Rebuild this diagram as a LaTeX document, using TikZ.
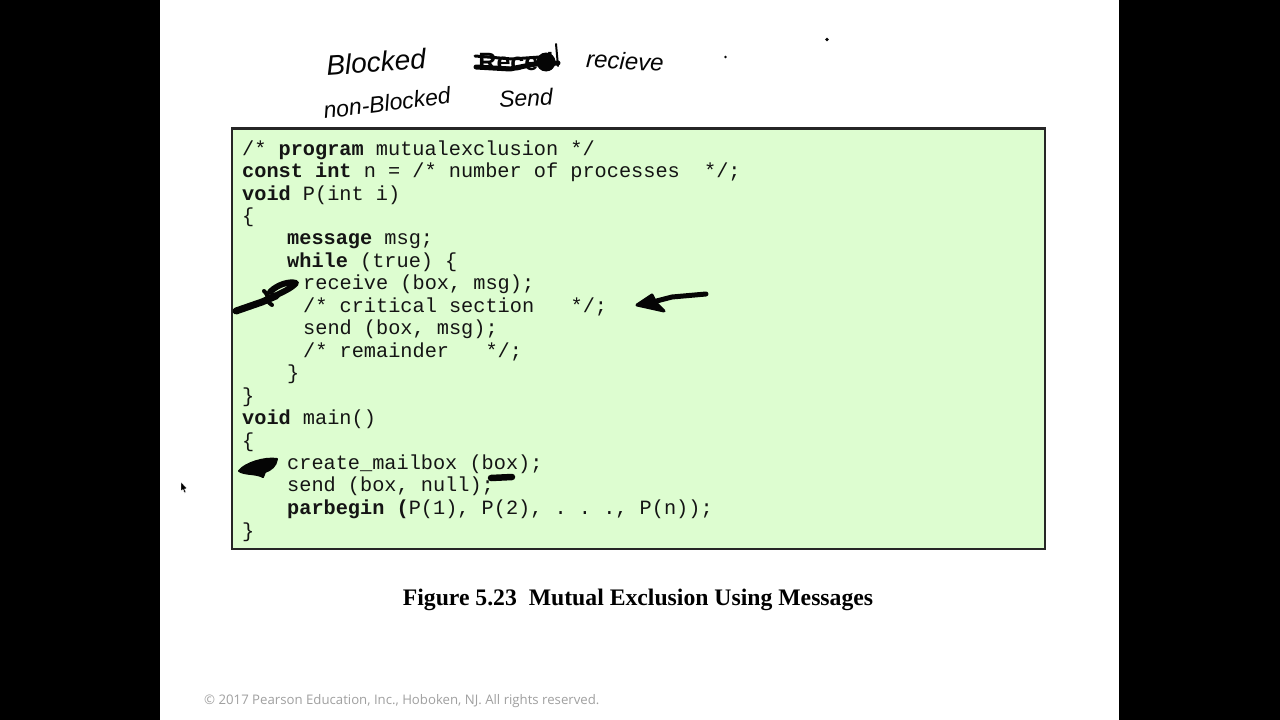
\documentclass[tikz,border=0pt]{standalone}
\usepackage{fontspec}
\setmainfont{Liberation Serif}
\setmonofont{Liberation Mono}
\newfontfamily\handfont{Liberation Sans}
\newfontfamily\notefont{Open Sans}
\definecolor{boxgreen}{HTML}{DDFDD0}
\definecolor{inkblack}{HTML}{050505}
\definecolor{notegray}{HTML}{A0A0A0}
\tikzset{
	codeline/.style={anchor=base west,inner sep=0,font=\fontsize{20.26}{22}\selectfont\ttfamily,text=black!92},
	handword/.style={anchor=center,inner sep=0,text=inkblack},
	inkstroke/.style={draw=inkblack,line cap=round,line join=round},
	inkblob/.style={fill=inkblack,draw=inkblack,line join=round}
}
\begin{document}
\begin{tikzpicture}[x=1pt,y=-1pt]
	\useasboundingbox (0,0) rectangle (1280,720);
	\fill[black] (0,0) rectangle (1280,720);
	\fill[white] (160,0) rectangle (1119,720);
	% handwriting above the box
	\node[handword,font=\handfont\itshape\fontsize{28}{28}\selectfont,rotate=4] (blocked) at (376,62) {Blocked};
	\node[handword,font=\handfont\bfseries\fontsize{25}{25}\selectfont] (struck) at (516,62) {Reced};
	\node[handword,font=\handfont\itshape\fontsize{24}{24}\selectfont,rotate=-3] (recieve) at (625,61) {recieve};
	\node[handword,font=\handfont\itshape\fontsize{23}{23}\selectfont,rotate=7] (nonblocked) at (387,103) {non-Blocked};
	\node[handword,font=\handfont\itshape\fontsize{23}{23}\selectfont,rotate=3] (sendword) at (526,98) {Send};
	\draw[inkstroke,line width=5pt] (476,67) -- (510,69) -- (535,64) -- (558,63);
	\draw[inkstroke,line width=3pt] (475,56) -- (512,59) -- (540,57);
	\fill[inkblack] (546,62) circle (9.5pt);
	\draw[inkstroke,line width=2pt] (556,44) -- (558,66);
	\fill[inkblack] (827,39.5) circle (1.8pt);
	\fill[inkblack] (725.5,57) circle (1.3pt);
	% box with the program
	\draw[draw=black!85,fill=boxgreen,line width=2.6pt] (232,128.5) rectangle (1045,549);
	\node[codeline] (l1) at (242,155) {/* \textbf{program} mutualexclusion */};
	\node[codeline] (l2) at (242,177) {\textbf{const int} n = /* number of processes~~*/;};
	\node[codeline] (l3) at (242,200) {\textbf{void} P(int i)};
	\node[codeline] (l4) at (242,222) {\{};
	\node[codeline] (l5) at (287,244) {\textbf{message} msg;};
	\node[codeline] (l6) at (287,267) {\textbf{while} (true) \{};
	\node[codeline] (l7) at (303,289) {receive (box, msg);};
	\node[codeline] (l8) at (303,312) {/* critical section~~~*/;};
	\node[codeline] (l9) at (303,334) {send (box, msg);};
	\node[codeline] (l10) at (303,357) {/* remainder~~~*/;};
	\node[codeline] (l11) at (287,379) {\}};
	\node[codeline] (l12) at (242,402) {\}};
	\node[codeline] (l13) at (242,424) {\textbf{void} main()};
	\node[codeline] (l14) at (242,447) {\{};
	\node[codeline] (l15) at (287,469) {create\_mailbox (box);};
	\node[codeline] (l16) at (287,491) {send (box, null);};
	\node[codeline] (l17) at (287,514) {\textbf{parbegin (}P(1), P(2), . . ., P(n));};
	\node[codeline] (l18) at (242,537) {\}};
	% ink marks on the box
	\draw[inkstroke,line width=7pt] (236,311) -- (262,302) -- (276,296);
	\draw[inkstroke,line width=4pt] (264,291) .. controls (270,296) and (266,303) .. (272,305);
	\draw[inkstroke,line width=6pt] (270,292) .. controls (278,284) and (290,281) .. (296,283) .. controls (291,289) and (282,292) .. (273,297);
	\draw[inkstroke,line width=5pt] (706,294) -- (672,297) -- (645,304);
	\fill[inkstroke,fill=inkblack,line width=3pt] (637,305) -- (652,295) -- (656,303) -- (664,311) -- cycle;
	\fill[inkblob,line width=2pt] (239,471) .. controls (245,463) and (265,457) .. (277,459) .. controls (276,466) and (271,470) .. (265,472) -- (263,477) .. controls (256,473) and (245,475) .. (239,471) -- cycle;
	\draw[inkstroke,line width=6.5pt] (491,478) -- (512,477);
	% caption and footer
	\node[inner sep=0,font=\bfseries\fontsize{23.7}{25}\selectfont] (caption) at (638,599.5) {Figure 5.23~~Mutual Exclusion Using Messages};
	\node[inner sep=0,anchor=west,text=notegray,font=\notefont\fontsize{13.2}{15}\selectfont] (notice) at (204,701) {© 2017 Pearson Education, Inc., Hoboken, NJ. All rights reserved.};
	\fill[black,draw=white,line width=.4pt] (181,482) -- (181,491) -- (183,489.5) -- (184.5,493) -- (186,492.3) -- (184.5,489) -- (187,488.5) -- cycle;
\end{tikzpicture}
\end{document}
